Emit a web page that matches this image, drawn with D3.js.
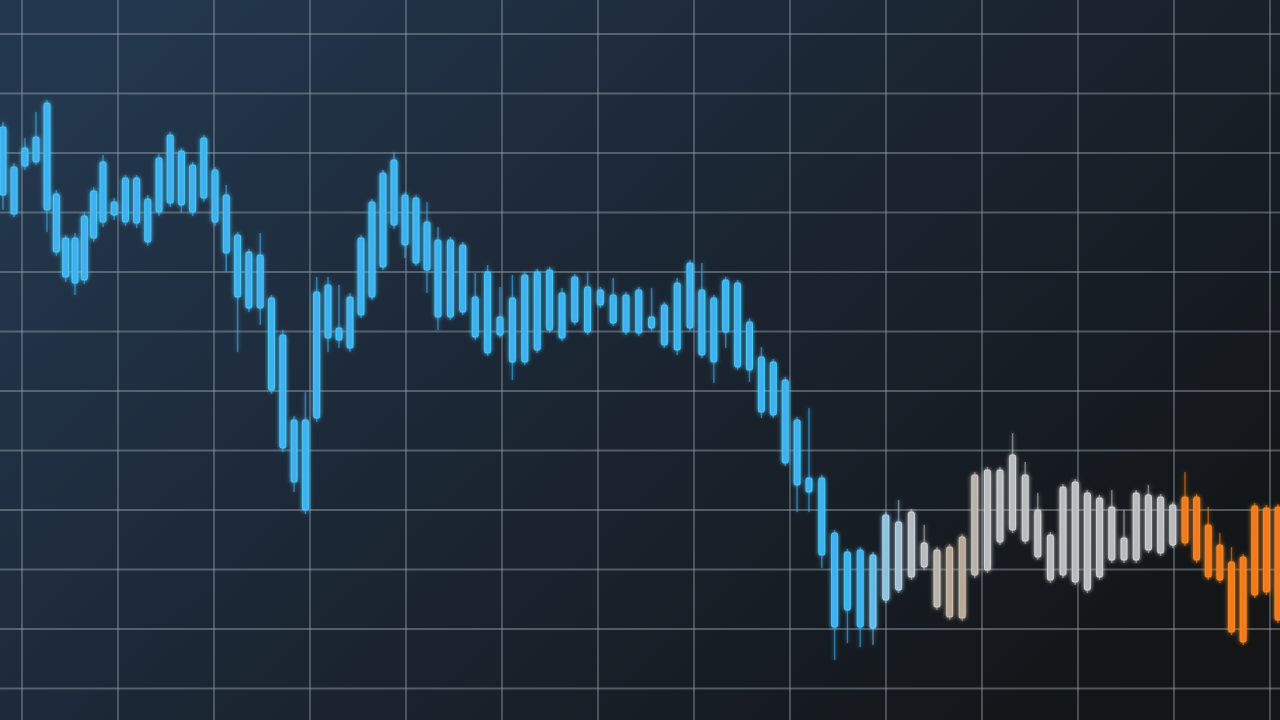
<!DOCTYPE html>
<html>
<head>
<meta charset="utf-8">
<script src="https://cdn.jsdelivr.net/npm/d3@7"></script>
<style>
  html, body { margin: 0; padding: 0; background: #141619; overflow: hidden; }
  svg { display: block; }
</style>
</head>
<body>
<svg id="chart" width="1280" height="720"></svg>
<script>
// ---- Data (price units) ----
const openValues = [
  80.5,78.6,83.4,83.8,79.0,74.8,72.3,71.7,72.0,76.2,
  77.8,78.5,77.8,77.7,75.8,78.8,79.7,79.5,78.8,80.2,
  77.8,74.7,70.3,69.2,69.2,61.0,55.2,51.8,49.0,58.2,
  66.2,66.0,65.2,68.5,70.3,73.3,77.5,75.5,73.7,73.0,
  68.3,68.3,68.8,66.3,64.7,66.5,63.8,63.8,65.0,67.0,
  66.2,67.8,66.8,69.5,67.7,66.8,66.7,67.2,65.5,65.0,
  67.2,64.5,63.8,66.8,63.3,63.0,58.8,58.5,53.7,51.5,
  50.8,44.5,37.3,39.0,37.3,37.2,40.0,41.0,42.3,43.3,
  39.3,38.3,38.2,42.5,43.0,45.8,47.0,45.9,44.3,42.0,
  42.5,41.8,41.0,42.3,44.0,44.0,44.0,45.0,44.7,45.5,
  45.7,44.0,42.3,42.0,36.8,35.8,40.5,40.8,38.0
];
const closeValues = [
  87.3,83.3,85.2,86.3,89.7,80.6,76.2,76.2,78.4,80.9,
  83.8,79.8,82.2,82.2,80.1,84.2,86.5,84.9,83.5,86.2,
  83.0,80.5,76.5,74.8,74.5,70.2,66.5,58.0,58.0,70.8,
  71.5,67.2,70.3,76.2,79.8,82.7,84.0,80.5,80.2,77.8,
  76.0,76.0,75.5,70.3,72.8,68.3,70.2,72.5,72.8,73.0,
  70.7,72.3,71.3,71.0,70.5,70.5,71.0,68.3,69.5,71.7,
  73.7,71.0,70.2,72.0,71.7,67.8,64.3,63.8,62.0,58.0,
  52.2,52.2,46.7,44.8,45.0,44.5,48.5,47.8,48.8,45.7,
  45.0,45.3,46.3,52.5,53.0,53.0,54.5,52.5,49.0,46.5,
  51.3,51.8,50.7,50.2,49.3,46.2,50.7,50.5,50.3,49.5,
  50.3,50.3,47.5,45.5,43.8,44.3,49.4,49.2,49.3
];
const highValues = [
  87.8,83.7,86.2,88.8,90.0,81.0,76.5,76.7,78.8,81.3,
  84.5,80.2,82.5,82.5,80.5,84.6,86.8,85.2,83.8,86.5,
  83.3,81.5,76.8,75.1,76.7,70.5,67.0,58.4,60.8,72.3,
  72.3,71.5,70.7,76.5,80.1,83.0,84.8,80.8,80.5,79.8,
  77.3,76.3,75.8,72.7,73.5,71.3,72.5,72.8,73.1,73.3,
  71.2,72.6,72.8,71.3,72.2,70.8,71.3,71.2,69.8,72.2,
  74.0,73.7,70.5,72.3,72.0,68.2,65.3,64.1,62.3,58.3,
  59.2,52.5,47.0,45.1,45.3,44.8,48.8,50.0,49.1,47.5,
  45.3,45.6,46.6,52.8,53.3,53.3,56.7,53.8,50.7,46.8,
  51.6,52.1,51.0,50.5,51.0,49.0,51.0,51.5,50.6,49.8,
  52.8,50.6,49.3,46.7,45.3,44.6,49.7,49.5,49.6
];
const lowValues = [
  79.0,78.3,83.0,83.5,76.8,74.4,71.8,70.5,71.6,75.8,
  77.3,78.0,77.4,77.2,75.4,78.4,79.3,78.7,78.4,79.8,
  77.4,72.8,64.8,68.8,67.5,60.6,54.8,50.8,48.6,57.8,
  64.8,65.2,64.8,68.2,70.0,73.0,77.1,74.2,73.4,70.7,
  67.0,68.0,68.5,66.0,64.4,66.2,62.0,63.5,64.7,66.7,
  65.9,67.5,66.5,69.2,67.4,66.5,66.4,66.9,65.2,64.5,
  66.9,64.2,61.7,65.2,63.0,61.8,58.2,58.2,53.4,48.8,
  48.8,43.2,34.0,35.7,35.3,35.5,39.7,40.7,42.0,43.0,
  39.0,38.0,37.9,42.2,42.7,45.5,46.7,45.6,44.0,41.7,
  42.2,41.5,40.7,42.0,43.7,43.7,43.7,44.7,44.4,45.2,
  45.4,43.7,42.0,41.7,36.5,35.5,40.2,40.5,37.7
];
const candles = openValues.map((o, i) => ({
  i, open: o, close: closeValues[i], high: highValues[i], low: lowValues[i]
}));

// ---- Layout / scales ----
const W = 1280, H = 720;
const svg = d3.select("#chart");

const y = d3.scaleLinear().domain([28, 100]).range([H, 0]);
// slightly uneven time spacing in the picture: polylinear index scale
const x = d3.scaleLinear()
  .domain([0, 4, 10, 20, 30, 40, 50, 60, 70, 80, 90, 100, 108])
  .range([3, 47, 103, 215, 328, 438, 562, 690, 809, 937, 1063, 1185, 1278]);
const gridX = d3.scaleLinear().domain([0, 13]).range([22, 1270]);
const gridY = d3.range(12).map(j => 96.6 - 5.95 * j);

const color = d3.scaleLinear()
  .domain([0, 74, 76, 78, 79, 81, 82, 84, 99, 100, 108])
  .range(["#40b0f0", "#40b0f0", "#8fc0de", "#b4bcc2", "#b9bcbd", "#b7a999", "#b7a999",
          "#b9bbbc", "#b9bbbc", "#f27a1e", "#f27a1e"])
  .interpolate(d3.interpolateRgb)
  .clamp(true);

// ---- Background ----
const defs = svg.append("defs");
const bg = defs.append("linearGradient").attr("id", "bg")
  .attr("x1", 0).attr("y1", 0.15).attr("x2", 1).attr("y2", 0.75);
bg.append("stop").attr("offset", 0).attr("stop-color", "#23384f");
bg.append("stop").attr("offset", 0.45).attr("stop-color", "#1c2735");
bg.append("stop").attr("offset", 1).attr("stop-color", "#131517");
const glow = defs.append("filter").attr("id", "glow")
  .attr("x", "-200%").attr("y", "-20%").attr("width", "500%").attr("height", "140%");
glow.append("feGaussianBlur").attr("in", "SourceGraphic").attr("stdDeviation", 2.2).attr("result", "b");
const merge = glow.append("feMerge");
merge.append("feMergeNode").attr("in", "b");
merge.append("feMergeNode").attr("in", "SourceGraphic");

svg.append("rect").attr("width", W).attr("height", H).attr("fill", "url(#bg)");

// ---- Grid ----
const grid = svg.append("g").attr("stroke", "#9aa4ae").attr("stroke-opacity", 0.45).attr("stroke-width", 1.8);
grid.selectAll("line.v").data(d3.range(14)).join("line").attr("class", "v")
  .attr("x1", d => gridX(d)).attr("x2", d => gridX(d)).attr("y1", 0).attr("y2", H);
grid.selectAll("line.h").data(gridY).join("line").attr("class", "h")
  .attr("x1", 0).attr("x2", W).attr("y1", d => y(d)).attr("y2", d => y(d));

// ---- Candles ----
const bodyW = 6;
const g = svg.append("g").attr("filter", "url(#glow)");
const c = g.selectAll("g.c").data(candles).join("g").attr("class", "c");
c.append("line")
  .attr("x1", d => x(d.i)).attr("x2", d => x(d.i))
  .attr("y1", d => y(d.high)).attr("y2", d => y(d.low))
  .attr("stroke", d => color(d.i)).attr("stroke-opacity", 0.6).attr("stroke-width", 1.4);
c.append("rect")
  .attr("x", d => x(d.i) - bodyW / 2)
  .attr("y", d => y(Math.max(d.open, d.close)))
  .attr("width", bodyW)
  .attr("height", d => Math.max(2, Math.abs(y(d.open) - y(d.close))))
  .attr("rx", 1.5)
  .attr("fill", d => color(d.i))
  .attr("stroke", d => d3.color(color(d.i)).brighter(0.6))
  .attr("stroke-width", 0.8);
</script>
</body>
</html>
